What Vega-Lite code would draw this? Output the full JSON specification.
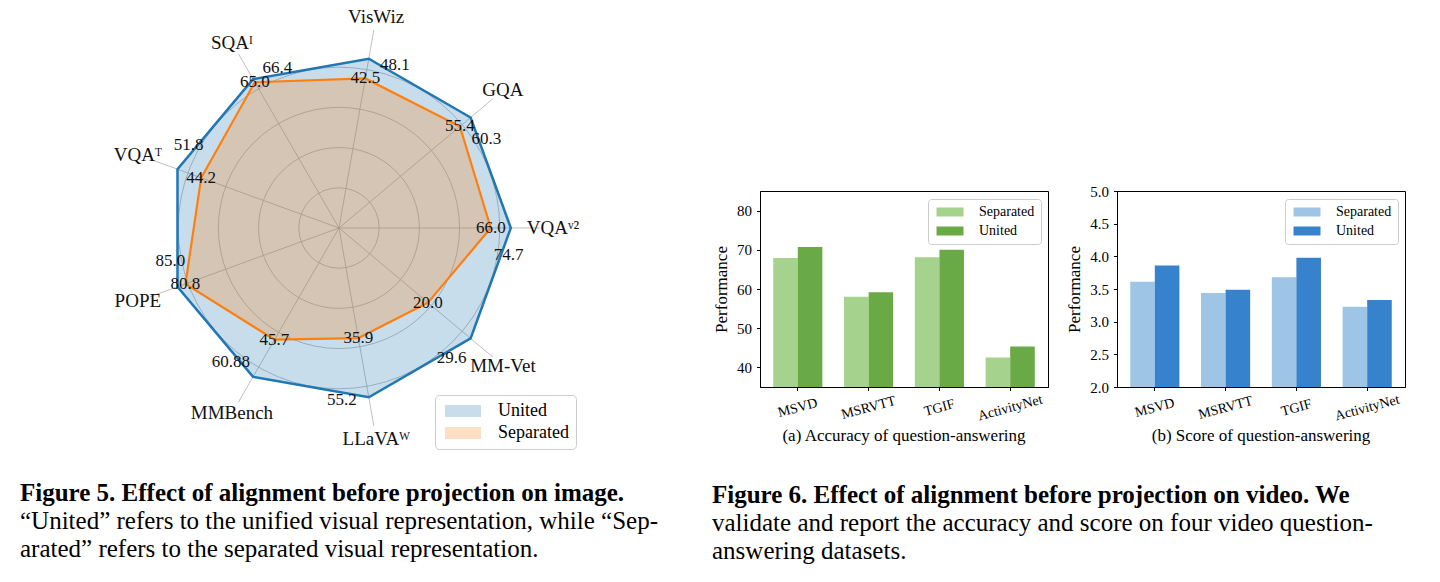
{
  "$schema": "https://vega.github.io/schema/vega-lite/v6.json",
  "background": "white",
  "padding": {"left": 20, "top": 0, "right": 0, "bottom": 0},
  "spacing": 42,
  "resolve": {"scale": {"fill": "independent", "color": "independent"}, "legend": {"fill": "independent", "color": "independent"}},
  "config": {
    "font": "Liberation Serif",
    "view": {"stroke": "black", "strokeWidth": 1},
    "axis": {"domainColor": "black", "tickColor": "black", "tickSize": 3.5, "labelColor": "black", "titleColor": "black", "grid": false, "labelFontSize": 14, "titleFontSize": 16, "titleFontWeight": "normal"},
    "legend": {"labelColor": "black"}
  },
  "datasets": {
    "radar": [
      {"axis": "VQAv2", "idx": 0, "model": "United", "value": 74.7, "txt": "74.7"},
      {"axis": "VQAv2", "idx": 0, "model": "Separated", "value": 66.0, "txt": "66.0"},
      {"axis": "GQA", "idx": 1, "model": "United", "value": 60.3, "txt": "60.3"},
      {"axis": "GQA", "idx": 1, "model": "Separated", "value": 55.4, "txt": "55.4"},
      {"axis": "VisWiz", "idx": 2, "model": "United", "value": 48.1, "txt": "48.1"},
      {"axis": "VisWiz", "idx": 2, "model": "Separated", "value": 42.5, "txt": "42.5"},
      {"axis": "SQA", "idx": 3, "model": "United", "value": 66.4, "txt": "66.4"},
      {"axis": "SQA", "idx": 3, "model": "Separated", "value": 65.0, "txt": "65.0"},
      {"axis": "VQAT", "idx": 4, "model": "United", "value": 51.8, "txt": "51.8"},
      {"axis": "VQAT", "idx": 4, "model": "Separated", "value": 44.2, "txt": "44.2"},
      {"axis": "POPE", "idx": 5, "model": "United", "value": 85.0, "txt": "85.0"},
      {"axis": "POPE", "idx": 5, "model": "Separated", "value": 80.8, "txt": "80.8"},
      {"axis": "MMBench", "idx": 6, "model": "United", "value": 60.88, "txt": "60.88"},
      {"axis": "MMBench", "idx": 6, "model": "Separated", "value": 45.7, "txt": "45.7"},
      {"axis": "LLaVAW", "idx": 7, "model": "United", "value": 55.2, "txt": "55.2"},
      {"axis": "LLaVAW", "idx": 7, "model": "Separated", "value": 35.9, "txt": "35.9"},
      {"axis": "MM-Vet", "idx": 8, "model": "United", "value": 29.6, "txt": "29.6"},
      {"axis": "MM-Vet", "idx": 8, "model": "Separated", "value": 20.0, "txt": "20.0"}
    ],
    "axes": [
      {"name": "VQAᵛ²", "idx": 0},
      {"name": "GQA", "idx": 1},
      {"name": "VisWiz", "idx": 2},
      {"name": "SQAᴵ", "idx": 3},
      {"name": "VQAᵀ", "idx": 4},
      {"name": "POPE", "idx": 5},
      {"name": "MMBench", "idx": 6},
      {"name": "LLaVAᵂ", "idx": 7},
      {"name": "MM-Vet", "idx": 8}
    ],
    "rings": [{"ring": 0.2}, {"ring": 0.4}, {"ring": 0.6}, {"ring": 0.8}],
    "video": [
      {"task": "MSVD", "model": "Separated", "accuracy": 67.9, "score": 3.61},
      {"task": "MSVD", "model": "United", "accuracy": 70.7, "score": 3.86},
      {"task": "MSRVTT", "model": "Separated", "accuracy": 58.0, "score": 3.44},
      {"task": "MSRVTT", "model": "United", "accuracy": 59.2, "score": 3.49},
      {"task": "TGIF", "model": "Separated", "accuracy": 68.1, "score": 3.68},
      {"task": "TGIF", "model": "United", "accuracy": 70.0, "score": 3.98},
      {"task": "ActivityNet", "model": "Separated", "accuracy": 42.5, "score": 3.23},
      {"task": "ActivityNet", "model": "United", "accuracy": 45.3, "score": 3.33}
    ]
  },
  "hconcat": [
    {
      "width": 650,
      "height": 470,
      "view": {"stroke": null},
      "title": {
        "text": "Figure 5.  Effect of alignment before projection on image.",
        "subtitle": ["“United” refers to the unified visual representation, while “Sep-", "arated” refers to the separated visual representation."],
        "orient": "bottom", "anchor": "start", "frame": "group", "offset": 11,
        "fontSize": 25, "fontWeight": "bold", "color": "black",
        "subtitleFont": "Liberation Serif", "subtitleFontSize": 25, "subtitleColor": "black", "subtitleLineHeight": 28, "subtitlePadding": 3
      },
      "layer": [
        {
          "data": {"name": "rings"},
          "mark": {"type": "arc", "theta": 0, "theta2": 6.2832, "filled": false, "stroke": "#b0b0b0", "strokeWidth": 0.8},
          "encoding": {
            "x": {"datum": 0, "type": "quantitative", "scale": {"domain": [-1.587, 1.647], "nice": false, "zero": false}, "axis": null},
            "y": {"datum": 0, "type": "quantitative", "scale": {"domain": [-1.204, 1.134], "nice": false, "zero": false}, "axis": null},
            "radius": {"field": "ring", "type": "quantitative", "stack": null, "scale": {"type": "linear", "domain": [0, 1], "range": [0, 201], "zero": true}}
          }
        },
        {
          "data": {"name": "axes"},
          "transform": [
            {"calculate": "datum.idx * 2 * PI / 9", "as": "a"},
            {"calculate": "cos(datum.a)", "as": "ex"},
            {"calculate": "sin(datum.a)", "as": "ey"}
          ],
          "mark": {"type": "rule", "stroke": "#b0b0b0", "strokeWidth": 0.8},
          "encoding": {
            "x": {"field": "ex", "type": "quantitative", "scale": {"domain": [-1.587, 1.647], "nice": false, "zero": false}, "axis": null},
            "y": {"field": "ey", "type": "quantitative", "scale": {"domain": [-1.204, 1.134], "nice": false, "zero": false}, "axis": null},
            "x2": {"datum": 0},
            "y2": {"datum": 0}
          }
        },
        {
          "data": {"name": "radar"},
          "transform": [
            {"joinaggregate": [{"op": "max", "field": "value", "as": "vmax"}], "groupby": ["axis"]},
            {"filter": "datum.model === 'United'"},
            {"calculate": "datum.value / datum.vmax * 0.855", "as": "r"},
            {"calculate": "datum.idx * 2 * PI / 9", "as": "a"},
            {"calculate": "datum.r * cos(datum.a)", "as": "px"},
            {"calculate": "datum.r * sin(datum.a)", "as": "py"}
          ],
          "mark": {"type": "line", "interpolate": "linear-closed", "fillOpacity": 0.25, "strokeOpacity": 0, "strokeWidth": 0},
          "encoding": {
            "x": {"field": "px", "type": "quantitative", "scale": {"domain": [-1.587, 1.647], "nice": false, "zero": false}, "axis": null},
            "y": {"field": "py", "type": "quantitative", "scale": {"domain": [-1.204, 1.134], "nice": false, "zero": false}, "axis": null},
            "order": {"field": "idx", "type": "quantitative"},
            "fill": {"field": "model", "type": "nominal", "scale": {"domain": ["United", "Separated"], "range": ["#1f77b4", "#ff7f0e"]},
              "legend": {"title": null, "orient": "none", "legendX": 415, "legendY": 395, "symbolType": "M-1,-1H5V1H-1Z", "symbolSize": 144, "symbolOpacity": 0.25, "symbolStrokeWidth": 0, "labelFontSize": 18, "labelOffset": 38, "padding": 7, "rowPadding": 4, "fillColor": "white", "strokeColor": "#cccccc", "cornerRadius": 4}}
          }
        },
        {
          "data": {"name": "radar"},
          "transform": [
            {"joinaggregate": [{"op": "max", "field": "value", "as": "vmax"}], "groupby": ["axis"]},
            {"filter": "datum.model === 'Separated'"},
            {"calculate": "datum.value / datum.vmax * 0.855", "as": "r"},
            {"calculate": "datum.idx * 2 * PI / 9", "as": "a"},
            {"calculate": "datum.r * cos(datum.a)", "as": "px"},
            {"calculate": "datum.r * sin(datum.a)", "as": "py"}
          ],
          "mark": {"type": "line", "interpolate": "linear-closed", "fillOpacity": 0.25, "strokeOpacity": 0, "strokeWidth": 0},
          "encoding": {
            "x": {"field": "px", "type": "quantitative", "scale": {"domain": [-1.587, 1.647], "nice": false, "zero": false}, "axis": null},
            "y": {"field": "py", "type": "quantitative", "scale": {"domain": [-1.204, 1.134], "nice": false, "zero": false}, "axis": null},
            "order": {"field": "idx", "type": "quantitative"},
            "fill": {"field": "model", "type": "nominal"}
          }
        },
        {
          "data": {"name": "radar"},
          "transform": [
            {"joinaggregate": [{"op": "max", "field": "value", "as": "vmax"}], "groupby": ["axis"]},
            {"filter": "datum.model === 'United'"},
            {"calculate": "datum.value / datum.vmax * 0.855", "as": "r"},
            {"calculate": "datum.idx * 2 * PI / 9", "as": "a"},
            {"calculate": "datum.r * cos(datum.a)", "as": "px"},
            {"calculate": "datum.r * sin(datum.a)", "as": "py"}
          ],
          "mark": {"type": "line", "interpolate": "linear-closed", "stroke": "#1f77b4", "strokeWidth": 2.5},
          "encoding": {
            "x": {"field": "px", "type": "quantitative", "scale": {"domain": [-1.587, 1.647], "nice": false, "zero": false}, "axis": null},
            "y": {"field": "py", "type": "quantitative", "scale": {"domain": [-1.204, 1.134], "nice": false, "zero": false}, "axis": null},
            "order": {"field": "idx", "type": "quantitative"}
          }
        },
        {
          "data": {"name": "radar"},
          "transform": [
            {"joinaggregate": [{"op": "max", "field": "value", "as": "vmax"}], "groupby": ["axis"]},
            {"filter": "datum.model === 'Separated'"},
            {"calculate": "datum.value / datum.vmax * 0.855", "as": "r"},
            {"calculate": "datum.idx * 2 * PI / 9", "as": "a"},
            {"calculate": "datum.r * cos(datum.a)", "as": "px"},
            {"calculate": "datum.r * sin(datum.a)", "as": "py"}
          ],
          "mark": {"type": "line", "interpolate": "linear-closed", "stroke": "#ff7f0e", "strokeWidth": 2.2},
          "encoding": {
            "x": {"field": "px", "type": "quantitative", "scale": {"domain": [-1.587, 1.647], "nice": false, "zero": false}, "axis": null},
            "y": {"field": "py", "type": "quantitative", "scale": {"domain": [-1.204, 1.134], "nice": false, "zero": false}, "axis": null},
            "order": {"field": "idx", "type": "quantitative"}
          }
        },
        {
          "data": {"name": "radar"},
          "transform": [
            {"joinaggregate": [{"op": "max", "field": "value", "as": "vmax"}], "groupby": ["axis"]},
            {"calculate": "datum.value / datum.vmax * 0.855", "as": "r"},
            {"calculate": "datum.idx * 2 * PI / 9 - (datum.model === 'United' ? 9 * PI / 180 : 0)", "as": "a"},
            {"calculate": "datum.r * cos(datum.a)", "as": "tx"},
            {"calculate": "datum.r * sin(datum.a)", "as": "ty"}
          ],
          "mark": {"type": "text", "fontSize": 17, "align": "center", "baseline": "middle", "color": "#111111"},
          "encoding": {
            "x": {"field": "tx", "type": "quantitative", "scale": {"domain": [-1.587, 1.647], "nice": false, "zero": false}, "axis": null},
            "y": {"field": "ty", "type": "quantitative", "scale": {"domain": [-1.204, 1.134], "nice": false, "zero": false}, "axis": null},
            "text": {"field": "txt", "type": "nominal"}
          }
        },
        {
          "data": {"name": "axes"},
          "transform": [
            {"calculate": "datum.idx * 2 * PI / 9", "as": "a"},
            {"calculate": "1.065 * cos(datum.a)", "as": "lx"},
            {"calculate": "1.065 * sin(datum.a)", "as": "ly"}
          ],
          "mark": {"type": "text", "fontSize": 19, "align": "center", "baseline": "middle", "color": "#111111"},
          "encoding": {
            "x": {"field": "lx", "type": "quantitative", "scale": {"domain": [-1.587, 1.647], "nice": false, "zero": false}, "axis": null},
            "y": {"field": "ly", "type": "quantitative", "scale": {"domain": [-1.204, 1.134], "nice": false, "zero": false}, "axis": null},
            "text": {"field": "name", "type": "nominal"}
          }
        }
      ]
    },
    {
      "spacing": 0,
      "title": {
        "text": "Figure 6.  Effect of alignment before projection on video.  We",
        "subtitle": ["validate and report the accuracy and score on four video question-", "answering datasets."],
        "orient": "bottom", "anchor": "start", "offset": 39,
        "fontSize": 25, "fontWeight": "bold", "color": "black",
        "subtitleFont": "Liberation Serif", "subtitleFontSize": 25, "subtitleColor": "black", "subtitleLineHeight": 28, "subtitlePadding": 3
      },
      "vconcat": [
        {
          "width": 288,
          "height": 183,
          "view": {"stroke": null},
          "data": {"values": [{"v": 0}]},
          "mark": {"type": "point", "opacity": 0},
          "encoding": {}
        },
        {
          "spacing": 16,
          "resolve": {"scale": {"color": "independent"}, "legend": {"color": "independent"}},
          "hconcat": [
            {
              "width": 288,
              "height": 196,
              "data": {"name": "video"},
              "title": {"text": "(a) Accuracy of question-answering", "orient": "bottom", "anchor": "middle", "frame": "group", "fontSize": 17, "fontWeight": "normal", "offset": 5, "color": "black"},
              "mark": {"type": "bar", "clip": true},
              "encoding": {
                "x": {"field": "task", "type": "nominal", "sort": ["MSVD", "MSRVTT", "TGIF", "ActivityNet"], "scale": {"paddingInner": 0.306, "paddingOuter": 0.187},
                  "axis": {"title": null, "labelAngle": -15, "labelAlign": "center", "labelBaseline": "middle", "labelPadding": 17, "labelFontSize": 14}},
                "xOffset": {"field": "model", "type": "nominal", "sort": ["Separated", "United"], "scale": {"paddingInner": 0, "paddingOuter": 0}},
                "y": {"field": "accuracy", "type": "quantitative", "scale": {"domain": [35, 85], "nice": false, "zero": false},
                  "axis": {"title": "Performance", "values": [40, 50, 60, 70, 80], "labelPadding": 5, "titlePadding": 6, "labelFontSize": 15, "titleFontSize": 17}},
                "color": {"field": "model", "type": "nominal", "sort": ["Separated", "United"], "scale": {"domain": ["Separated", "United"], "range": ["#a5d28c", "#6aaa46"]},
                  "legend": {"title": null, "orient": "top-right", "offset": 7.5, "symbolType": "M-1,-1H5V1H-1Z", "symbolSize": 81, "symbolStrokeWidth": 0, "labelFontSize": 14, "labelOffset": 31, "padding": 6, "rowPadding": 5, "fillColor": "white", "strokeColor": "#cccccc", "cornerRadius": 3}}
              }
            },
            {
              "width": 288,
              "height": 196,
              "data": {"name": "video"},
              "title": {"text": "(b) Score of question-answering", "orient": "bottom", "anchor": "middle", "frame": "group", "fontSize": 17, "fontWeight": "normal", "offset": 5, "color": "black"},
              "mark": {"type": "bar", "clip": true},
              "encoding": {
                "x": {"field": "task", "type": "nominal", "sort": ["MSVD", "MSRVTT", "TGIF", "ActivityNet"], "scale": {"paddingInner": 0.306, "paddingOuter": 0.187},
                  "axis": {"title": null, "labelAngle": -15, "labelAlign": "center", "labelBaseline": "middle", "labelPadding": 17, "labelFontSize": 14}},
                "xOffset": {"field": "model", "type": "nominal", "sort": ["Separated", "United"], "scale": {"paddingInner": 0, "paddingOuter": 0}},
                "y": {"field": "score", "type": "quantitative", "scale": {"domain": [2, 5], "nice": false, "zero": false},
                  "axis": {"title": "Performance", "values": [2, 2.5, 3, 3.5, 4, 4.5, 5], "format": ".1f", "labelPadding": 5, "titlePadding": 6, "labelFontSize": 15, "titleFontSize": 17}},
                "color": {"field": "model", "type": "nominal", "sort": ["Separated", "United"], "scale": {"domain": ["Separated", "United"], "range": ["#9ec5e6", "#3682cd"]},
                  "legend": {"title": null, "orient": "top-right", "offset": 7.5, "symbolType": "M-1,-1H5V1H-1Z", "symbolSize": 81, "symbolStrokeWidth": 0, "labelFontSize": 14, "labelOffset": 31, "padding": 6, "rowPadding": 5, "fillColor": "white", "strokeColor": "#cccccc", "cornerRadius": 3}}
              }
            }
          ]
        }
      ]
    }
  ]
}
